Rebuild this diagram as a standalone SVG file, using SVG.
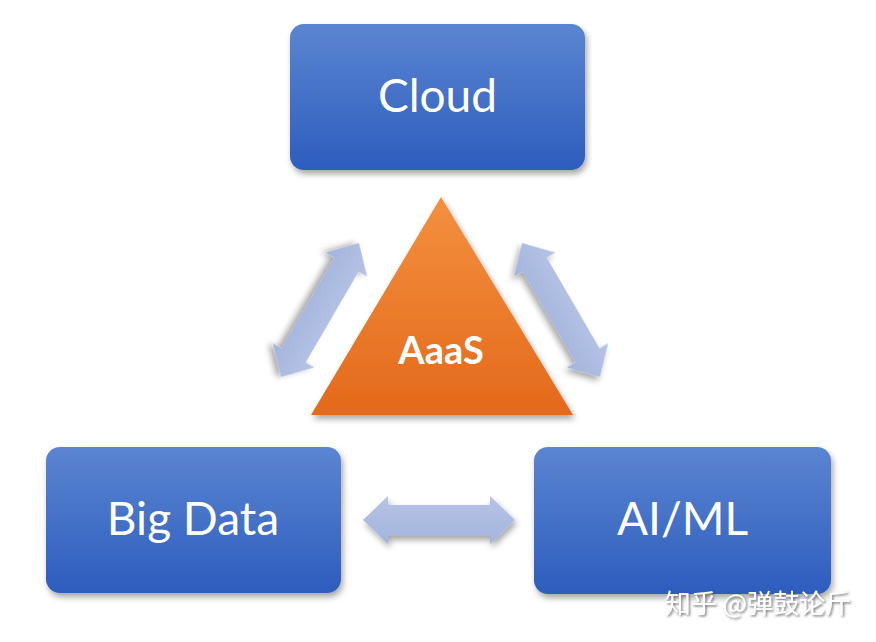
<svg xmlns="http://www.w3.org/2000/svg" width="876" height="642" viewBox="0 0 876 642">
<defs>
<linearGradient id="gBlue" x1="0" y1="0" x2="0" y2="1">
<stop offset="0" stop-color="#5b85d1"/>
<stop offset="1" stop-color="#2d5dbe"/>
</linearGradient>
<linearGradient id="gOrange" x1="0" y1="0" x2="0" y2="1">
<stop offset="0" stop-color="#f3903f"/>
<stop offset="1" stop-color="#e4691b"/>
</linearGradient>
<linearGradient id="gArrow" x1="0" y1="0" x2="0" y2="1">
<stop offset="0" stop-color="#b6c4e5"/>
<stop offset="1" stop-color="#a3b4dc"/>
</linearGradient>
<filter id="sh" x="-20%" y="-20%" width="140%" height="140%">
<feDropShadow dx="2" dy="4" stdDeviation="3" flood-color="#000" flood-opacity="0.35"/>
</filter>
<filter id="shText" x="-10%" y="-30%" width="120%" height="160%">
<feDropShadow dx="1.5" dy="1.5" stdDeviation="1" flood-color="#555" flood-opacity="0.8"/>
</filter>
<path id="dblArrow" d="M-77.5,0 L-52.5,-24 L-52.5,-14 L52.5,-14 L52.5,-24 L77.5,0 L52.5,24 L52.5,14 L-52.5,14 L-52.5,24 Z"/>
</defs>
<style>
.box{fill:url(#gBlue);filter:url(#sh);}
.lbl{fill:#ffffff;font-family:Lato,"Noto Sans",sans-serif;font-size:46px;text-anchor:middle;}
.arr{fill:url(#gArrow);filter:url(#sh);}
</style>
<rect width="876" height="642" fill="#ffffff"/>
<g id="connectors">
<use href="#dblArrow" class="arr" transform="translate(320,310) rotate(120.2)"/>
<use href="#dblArrow" class="arr" transform="translate(561,310) rotate(59.8)"/>
<path class="arr" d="M363,520 L388,496 L388,505 L490,505 L490,496 L515,520 L490,544 L490,536 L388,536 L388,544 Z"/>
</g>
<g id="cloud">
<rect class="box" x="290" y="24" width="295" height="146" rx="14"/>
<text class="lbl" x="437.5" y="112">Cloud</text>
</g>
<g id="bigdata">
<rect class="box" x="46" y="447" width="295" height="146" rx="14"/>
<text class="lbl" x="193" y="535">Big Data</text>
</g>
<g id="aiml">
<rect class="box" x="534" y="447" width="297" height="147" rx="14"/>
<text class="lbl" x="682.5" y="535">AI/ML</text>
</g>
<g id="aaas">
<polygon points="441,197 573,415 311,415" fill="url(#gOrange)" filter="url(#sh)"/>
<text x="441" y="364" fill="#ffffff" font-family="Lato,'Noto Sans',sans-serif" font-weight="bold" font-size="38" text-anchor="middle">AaaS</text>
</g>
<text x="758" y="613" fill="#ffffff" filter="url(#shText)" font-family="'Noto Sans CJK SC',sans-serif" font-size="26" text-anchor="middle">知乎 @弹鼓论斤</text>
</svg>
